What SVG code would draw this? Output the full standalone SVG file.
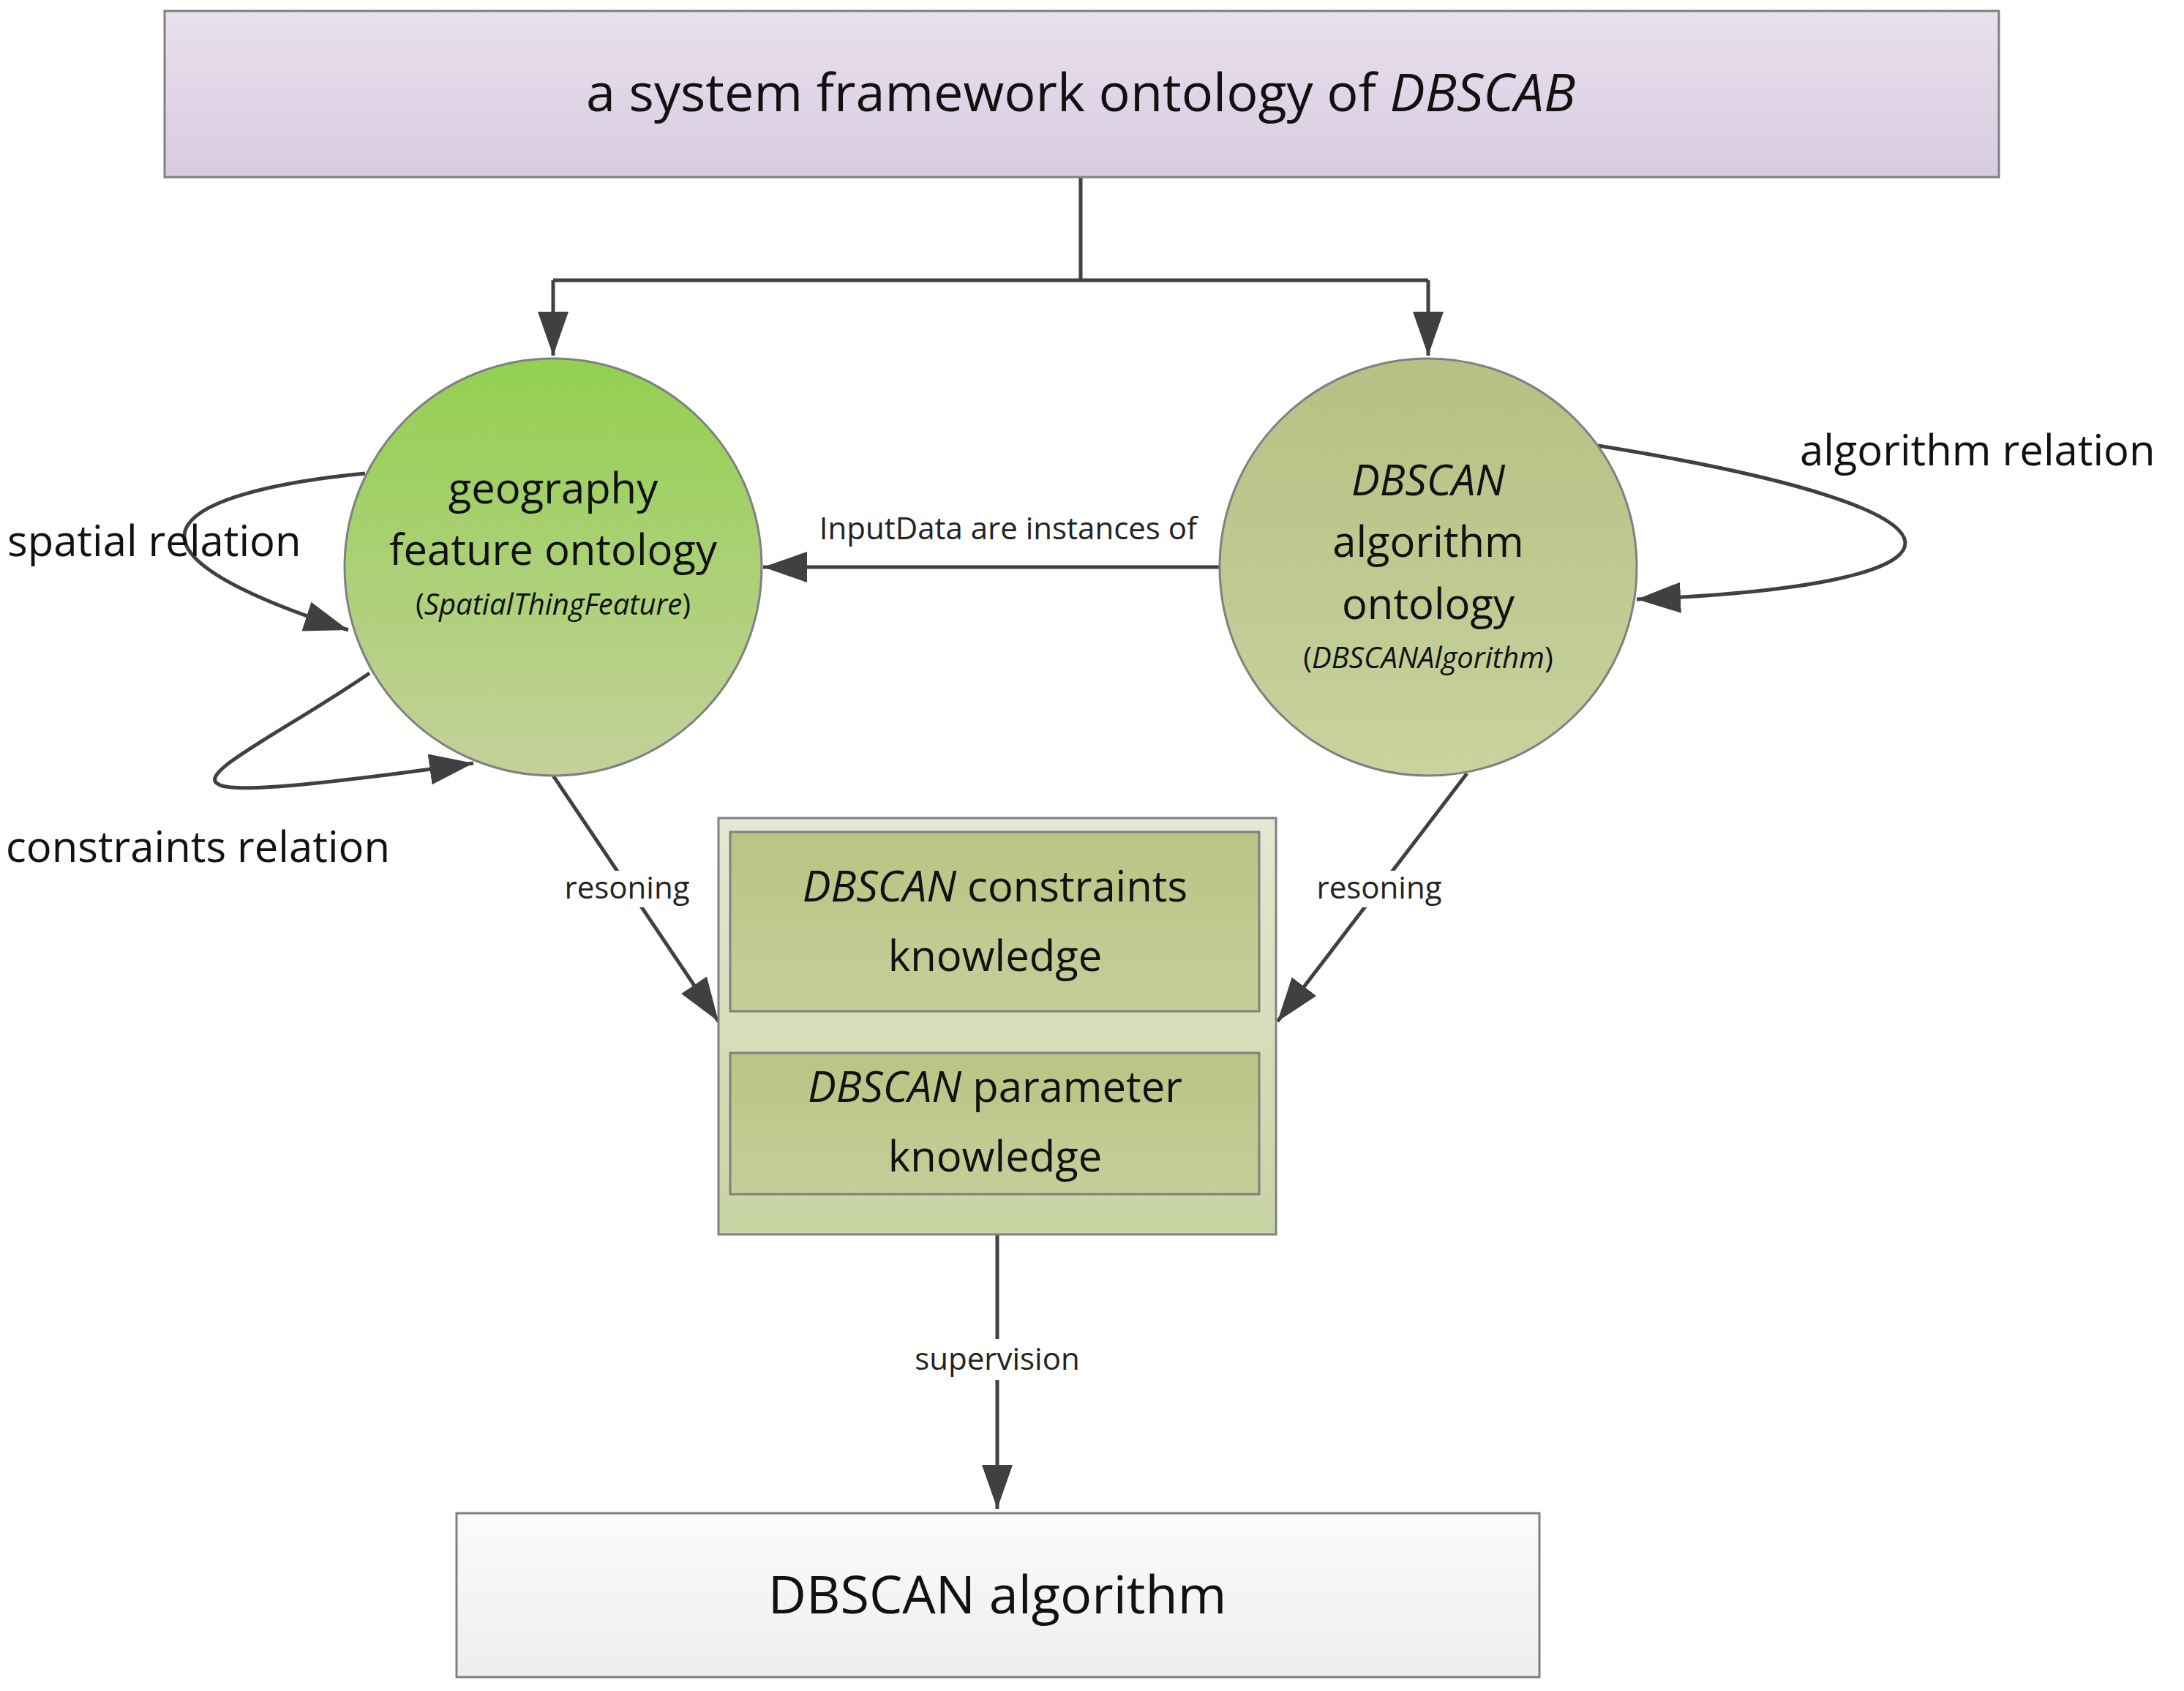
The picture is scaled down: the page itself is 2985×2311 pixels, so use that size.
<svg xmlns="http://www.w3.org/2000/svg" width="2985" height="2311" viewBox="0 0 2985 2311">
<defs>
<linearGradient id="gTop" x1="0" y1="0" x2="0" y2="1"><stop offset="0" stop-color="#e8e0ee"/><stop offset="1" stop-color="#d8cce0"/></linearGradient>
<linearGradient id="gL" x1="0" y1="0" x2="0" y2="1"><stop offset="0" stop-color="#92d050"/><stop offset="1" stop-color="#c4d19a"/></linearGradient>
<linearGradient id="gR" x1="0" y1="0" x2="0" y2="1"><stop offset="0" stop-color="#b5c083"/><stop offset="1" stop-color="#c8d39e"/></linearGradient>
<linearGradient id="gBox" x1="0" y1="0" x2="0" y2="1"><stop offset="0" stop-color="#b8c584"/><stop offset="1" stop-color="#c4cf98"/></linearGradient>
<linearGradient id="gCont" x1="0" y1="0" x2="0" y2="1"><stop offset="0" stop-color="#e4e8d4"/><stop offset="1" stop-color="#c8d3a2"/></linearGradient>
<linearGradient id="gBot" x1="0" y1="0" x2="0" y2="1"><stop offset="0" stop-color="#fbfbfb"/><stop offset="1" stop-color="#eeeeee"/></linearGradient>
<marker id="ah" viewBox="0 0 10 10" refX="10" refY="5" markerWidth="9" markerHeight="9" markerUnits="userSpaceOnUse" orient="auto"><path d="M0,0 L10,5 L0,10 z" fill="#404040"/></marker>
<marker id="ab" viewBox="0 0 10 10" refX="10" refY="5" markerWidth="12" markerHeight="12" orient="auto"><path d="M0,1.5 L10,5 L0,8.5 z" fill="#404040"/></marker>
</defs>
<style>
text{font-family:"Open Sans","Noto Sans","Liberation Sans",sans-serif;fill:#111;text-anchor:middle}
.big{font-size:72px}.mid{font-size:58px}.sm{font-size:40px}.lbl{font-size:42px;fill:#222}
.c{fill:none;stroke:#404040;stroke-width:5}
.n{stroke:#808080;stroke-width:3}
</style>
<rect width="2985" height="2311" fill="#fff"/>
<g id="connectors">
<path class="c" d="M1477,242 V383 M756,383 H1952"/>
<path class="c" d="M756,383 V486" marker-end="url(#ab)"/>
<path class="c" d="M1952,383 V486" marker-end="url(#ab)"/>
<path class="c" d="M1668,775 H1043" marker-end="url(#ab)"/>
<path class="c" d="M499,647 C260,670 100,740 476,861" marker-end="url(#ab)"/>
<path class="c" d="M505,920 C300,1060 100,1120 647,1043" marker-end="url(#ab)"/>
<path class="c" d="M2184,609 C2750,700 2720,800 2237,819" marker-end="url(#ab)"/>
<path class="c" d="M756,1060 L982,1396" marker-end="url(#ab)"/>
<path class="c" d="M2005,1057 L1746,1396" marker-end="url(#ab)"/>
<path class="c" d="M1363,1687 V2062" marker-end="url(#ab)"/>
<rect x="760" y="1190" width="200" height="50" fill="#fff"/>
<rect x="1785" y="1190" width="200" height="50" fill="#fff"/>
<rect x="1230" y="1830" width="266" height="56" fill="#fff"/>
<rect x="1090" y="693" width="578" height="56" fill="#fff"/>
<text class="lbl" x="857" y="1228">resoning</text>
<text class="lbl" x="1885" y="1228">resoning</text>
<text class="lbl" x="1363" y="1872">supervision</text>
<text class="lbl" x="1378" y="737">InputData are instances of</text>
<text class="mid" x="10" y="760" style="text-anchor:start">spatial relation</text>
<text class="mid" x="8" y="1178" style="text-anchor:start">constraints relation</text>
<text class="mid" x="2460" y="636" style="text-anchor:start">algorithm relation</text>
</g>
<g id="top"><rect class="n" x="225" y="15" width="2507" height="227" fill="url(#gTop)"/>
<text class="big" x="1477" y="152">a system framework ontology of <tspan font-style="italic">DBSCAB</tspan></text></g>
<g id="geo"><circle class="n" cx="756" cy="775" r="285" fill="url(#gL)"/>
<text class="mid" x="756" y="688">geography</text><text class="mid" x="756" y="772">feature ontology</text>
<text class="sm" x="756" y="840">(<tspan font-style="italic">SpatialThingFeature</tspan>)</text></g>
<g id="alg"><circle class="n" cx="1952" cy="775" r="285" fill="url(#gR)"/>
<text class="mid" x="1952" y="677" font-style="italic">DBSCAN</text><text class="mid" x="1952" y="761">algorithm</text><text class="mid" x="1952" y="846">ontology</text>
<text class="sm" x="1952" y="913">(<tspan font-style="italic">DBSCANAlgorithm</tspan>)</text></g>
<g id="know"><rect class="n" x="982" y="1118" width="762" height="569" fill="url(#gCont)"/>
<rect class="n" x="998" y="1137" width="723" height="245" fill="url(#gBox)"/>
<text class="mid" x="1360" y="1232"><tspan font-style="italic">DBSCAN</tspan> constraints</text><text class="mid" x="1360" y="1327">knowledge</text>
<rect class="n" x="998" y="1439" width="723" height="193" fill="url(#gBox)"/>
<text class="mid" x="1360" y="1506"><tspan font-style="italic">DBSCAN</tspan> parameter</text><text class="mid" x="1360" y="1601">knowledge</text></g>
<g id="dbscan"><rect class="n" x="624" y="2068" width="1480" height="224" fill="url(#gBot)"/>
<text class="big" x="1363" y="2205">DBSCAN algorithm</text></g>
</svg>
